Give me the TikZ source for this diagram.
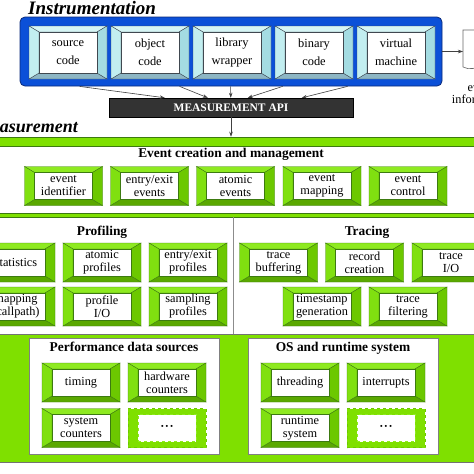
\documentclass[tikz,border=0pt]{standalone}
\usepackage{fontspec}
\setmainfont{Liberation Serif}
\usetikzlibrary{arrows.meta,calc}
\definecolor{instblue}{HTML}{0B50D8}
\definecolor{instline}{HTML}{0A2A7A}
\definecolor{cytop}{HTML}{D6F5F5}
\definecolor{cyleft}{HTML}{C2EEF0}
\definecolor{cyright}{HTML}{A4DCE2}
\definecolor{cybot}{HTML}{8DB6C4}
\definecolor{cyline}{HTML}{404850}
\definecolor{grtop}{HTML}{8EEA20}
\definecolor{grleft}{HTML}{80E010}
\definecolor{grright}{HTML}{6CC800}
\definecolor{grbot}{HTML}{5AA800}
\definecolor{grline}{HTML}{3C7A10}
\definecolor{grfill}{HTML}{7FE000}
\definecolor{apidark}{HTML}{333333}
% bevelled box: name, cx, cy, w, h, palette, text
\newcommand{\bvbox}[7]{%
\pgfmathsetmacro\bvhw{#4/2}\pgfmathsetmacro\bvhh{#5/2}%
\pgfmathsetmacro\bviw{#4-20}\pgfmathsetmacro\bvih{#5-12}%
\begin{scope}[shift={(#2,#3)}]
\filldraw[fill=#6top,draw=#6line,line width=0.4pt] (-\bvhw,-\bvhh) -- (\bvhw,-\bvhh) -- ({\bvhw-10},{-\bvhh+6}) -- ({-\bvhw+10},{-\bvhh+6}) -- cycle;
\filldraw[fill=#6bot,draw=#6line,line width=0.4pt] (-\bvhw,\bvhh) -- (\bvhw,\bvhh) -- ({\bvhw-10},{\bvhh-6}) -- ({-\bvhw+10},{\bvhh-6}) -- cycle;
\filldraw[fill=#6left,draw=#6line,line width=0.4pt] (-\bvhw,-\bvhh) -- ({-\bvhw+10},{-\bvhh+6}) -- ({-\bvhw+10},{\bvhh-6}) -- (-\bvhw,\bvhh) -- cycle;
\filldraw[fill=#6right,draw=#6line,line width=0.4pt] (\bvhw,-\bvhh) -- ({\bvhw-10},{-\bvhh+6}) -- ({\bvhw-10},{\bvhh-6}) -- (\bvhw,\bvhh) -- cycle;
\node[draw=#6line,fill=white,line width=0.5pt,minimum width=\bviw pt,minimum height=\bvih pt,inner sep=0pt,align=center,bvtext] (#1) at (0,0) {#7};
\end{scope}}
% dashed placeholder box: name, cx, cy
\newcommand{\dbox}[3]{%
\node[draw=grright,dashed,fill=grfill,line width=0.8pt,minimum width=78pt,minimum height=39pt] (#1-o) at (#2,#3) {};
\node[draw=grtop,dashed,fill=white,line width=0.8pt,minimum width=58pt,minimum height=27pt,inner sep=0pt,bvtext] (#1) at (#2,#3) {\textbf{·\kern0.5pt·\kern0.5pt·}};}
\begin{document}
\begin{tikzpicture}[x=1pt,y=-1pt,
  bvtext/.style={font=\fontsize{12.3}{13}\selectfont},
  arr/.style={draw=black!75,line width=0.6pt,-{Stealth[length=5pt,width=3.5pt]}},
  sectitle/.style={font=\fontsize{13.4}{15}\selectfont\bfseries,anchor=base},
  bigtitle/.style={font=\fontsize{19}{21}\selectfont\bfseries\itshape},
  gbar/.style={fill=grfill,draw=grline,line width=0.5pt,inner sep=0pt}]
\useasboundingbox (0,0) rectangle (474,474);
\clip (0,0) rectangle (474,474);
\fill[white] (0,0) rectangle (474,474);

% ---------- Instrumentation ----------
\node[bigtitle,anchor=base west,inner sep=0pt] (tinstr) at (28,14) {Instrumentation};
\node[fill=instblue,draw=instline,line width=0.8pt,rounded corners=5pt,minimum width=422pt,minimum height=69pt,inner sep=0pt] (instr) at (231,51.5) {};
\begin{scope}[bvtext/.style={font=\fontsize{12.4}{17.5}\selectfont}]
\bvbox{src}{68}{52.5}{78}{53}{cy}{source\\code}
\bvbox{obj}{150}{52.5}{78}{53}{cy}{object\\code}
\bvbox{lib}{232}{52.5}{78}{53}{cy}{library\\wrapper}
\bvbox{bin}{314}{52.5}{78}{53}{cy}{binary\\code}
\bvbox{vm}{396}{52.5}{78}{53}{cy}{virtual\\machine}
\end{scope}

\node[fill=apidark,draw=black,minimum width=244pt,minimum height=19pt,inner sep=0pt,text=white,font=\fontsize{11.5}{13}\selectfont\bfseries] (api) at (231,107.5) {MEASUREMENT API};

\draw[arr] ($(instr.south west)+(60,0)$) -- ($(api.north west)+(56,0)$);
\draw[arr] ($(instr.south west)+(160,0)$) -- ($(api.north west)+(99,0)$);
\draw[arr] ($(instr.south west)+(211,0)$) -- ($(api.north west)+(122,0)$);
\draw[arr] ($(instr.south west)+(263,0)$) -- ($(api.north west)+(139,0)$);
\draw[arr] ($(instr.south west)+(328,0)$) -- ($(api.north west)+(193,0)$);

% event information document
\coordinate (doc) at (463,51.5);
\filldraw[fill=white,draw=black!60,line width=0.6pt] (463,30) -- (500,30) -- (500,64) .. controls (490,57) and (476,74) .. (463,67) -- cycle;
\draw[arr] (instr.east) -- (doc);
\node[font=\fontsize{12.3}{12.5}\selectfont,align=center,inner sep=0pt] (evinfo) at (481,94) {event\\information};

% ---------- Measurement ----------
\node[bigtitle,anchor=base east,inner sep=0pt,font=\fontsize{18}{20}\selectfont\bfseries\itshape] (tmeas) at (78,132) {Measurement};
\node[gbar,minimum width=490pt,minimum height=9pt] (mbar) at (237,141.5) {};
\draw[arr] (api.south) -- (api.south |- mbar.north);

\node[sectitle] (tevent) at (231,157) {Event creation and management};
\bvbox{evid}{63.5}{186}{78}{39}{gr}{event\\identifier}
\bvbox{evee}{149.5}{186}{78}{39}{gr}{entry/exit\\events}
\bvbox{evat}{235.5}{186}{78}{39}{gr}{atomic\\events}
\bvbox{evmap}{322}{186}{78}{39}{gr}{event\\mapping}
\bvbox{evctl}{408}{186}{78}{39}{gr}{event\\control}

\node[gbar,minimum width=490pt,minimum height=4pt] (sep1) at (237,215) {};

% Profiling
\node[sectitle] (tprof) at (102,235) {Profiling};
\bvbox{pstat}{16}{262.5}{78}{39}{gr}{statistics}
\bvbox{patom}{102}{262.5}{78}{39}{gr}{atomic\\profiles}
\bvbox{pee}{188}{262.5}{78}{39}{gr}{entry/exit\\profiles}
\bvbox{pmap}{16}{306.5}{78}{39}{gr}{mapping\\(callpath)}
\bvbox{pio}{102}{306.5}{78}{39}{gr}{profile\\I/O}
\bvbox{psamp}{188}{306.5}{78}{39}{gr}{sampling\\profiles}

% Tracing
\node[sectitle] (ttrace) at (367,235) {Tracing};
\bvbox{tbuf}{278.5}{262.5}{78}{39}{gr}{trace\\buffering}
\bvbox{trec}{364.5}{262.5}{78}{39}{gr}{record\\creation}
\bvbox{tio}{451}{262.5}{78}{39}{gr}{trace\\I/O}
\bvbox{tts}{322}{306.5}{78}{39}{gr}{timestamp\\generation}
\bvbox{tfilt}{408}{306.5}{78}{39}{gr}{trace\\filtering}

% bottom green area
\node[gbar,draw=black!55,minimum width=490pt,minimum height=128pt] (pbot) at (237,398) {};
\draw[black!45,line width=0.8pt] (sep1.south -| 233,0) -- (pbot.north -| 233,0);

\node[fill=white,draw=black!50,line width=0.5pt,minimum width=190pt,minimum height=116pt,inner sep=0pt] (pds) at (124,396) {};
\node[fill=white,draw=black!50,line width=0.5pt,minimum width=190pt,minimum height=116pt,inner sep=0pt] (osr) at (343,396) {};
\node[sectitle] (tpds) at (124,351) {Performance data sources};
\node[sectitle] (tosr) at (343,351) {OS and runtime system};

\bvbox{timing}{81}{382.5}{78}{39}{gr}{timing}
\bvbox{hwc}{167}{382.5}{78}{39}{gr}{hardware\\counters}
\bvbox{sysc}{81}{428}{78}{39}{gr}{system\\counters}
\dbox{pdsmore}{167}{428}
\bvbox{thr}{300}{382.5}{78}{39}{gr}{threading}
\bvbox{intr}{386}{382.5}{78}{39}{gr}{interrupts}
\bvbox{rts}{300}{428}{78}{39}{gr}{runtime\\system}
\dbox{osrmore}{386}{428}
\end{tikzpicture}
\end{document}
